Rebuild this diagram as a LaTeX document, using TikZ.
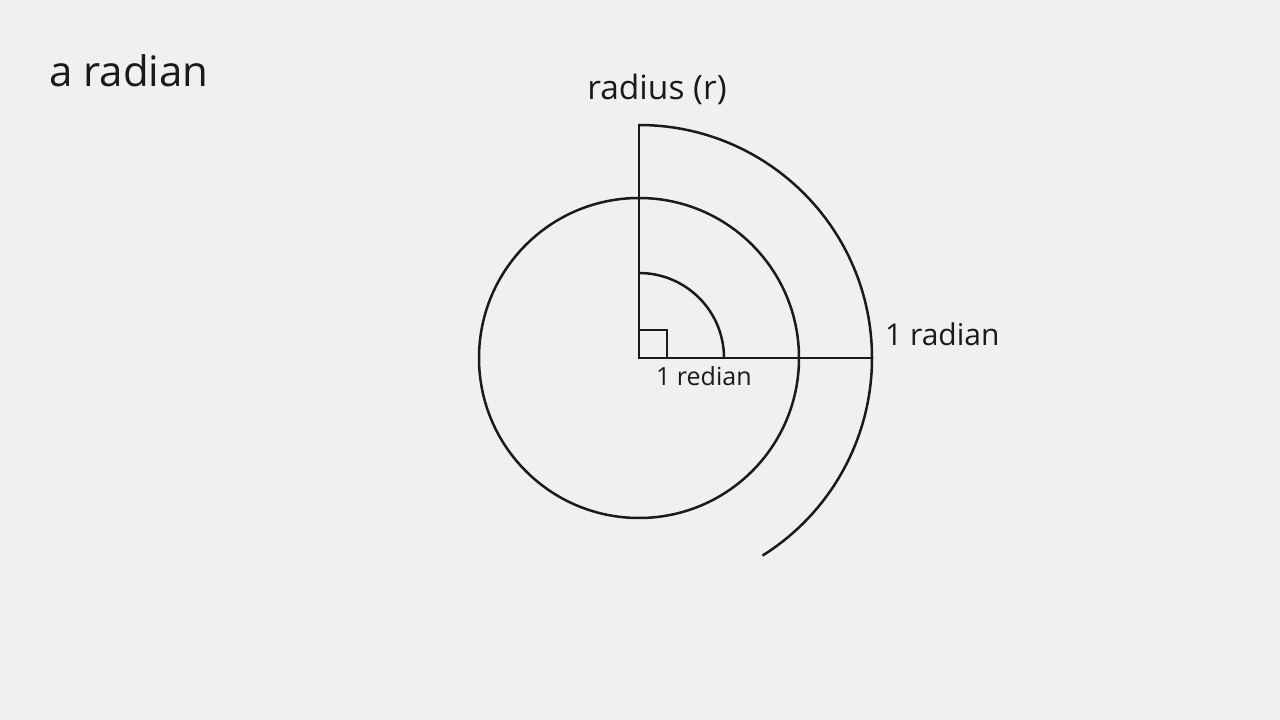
\documentclass[tikz,border=0pt]{standalone}
\usepackage{fontspec}
\setmainfont{Open Sans}
\usepackage{tikz}
\usetikzlibrary{positioning}
\definecolor{bggray}{HTML}{F0F0F0}
\definecolor{tinte}{HTML}{1A1A1A}

\begin{document}
\begin{tikzpicture}[x=1pt, y=1pt,
    linie/.style={draw=tinte, line width=2.5pt},
    beschriftung/.style={text=tinte, inner sep=0pt}]
    % Hintergrund.
    \fill[bggray] (0,0) rectangle (1280,720);
    \useasboundingbox (0,0) rectangle (1280,720);

    % Punkte.
    \coordinate (M) at (639,362);
    \coordinate (oben) at (639,595);
    \coordinate (rechts) at (872,362);

    % Kreis und Bogen.
    \draw[linie] (M) circle[radius=160];
    \draw[linie] (oben) arc[start angle=90, end angle=-58, radius=233];
    \draw[linie] ([yshift=85]M) arc[start angle=90, end angle=0, radius=85];

    % Radien.
    \draw[linie, line cap=rect] (rechts) -- (M) -- (oben);

    % Rechter Winkel.
    \draw[linie] ([yshift=28]M) -| ([xshift=28]M);

    % Beschriftung.
    \node[beschriftung, anchor=base west, font=\fontsize{42}{48}\selectfont] (titel) at (49,633) {a radian};
    \node[beschriftung, anchor=base, font=\fontsize{33.5}{40}\selectfont] (radius) at (657,620) {radius (r)};
    \node[beschriftung, anchor=base west, font=\fontsize{30}{36}\selectfont] (bogen) at (885,374) {1 radian};
    \node[beschriftung, anchor=base west, font=\fontsize{25}{30}\selectfont] (winkel) at (656,334) {1 redian};
\end{tikzpicture}
\end{document}
